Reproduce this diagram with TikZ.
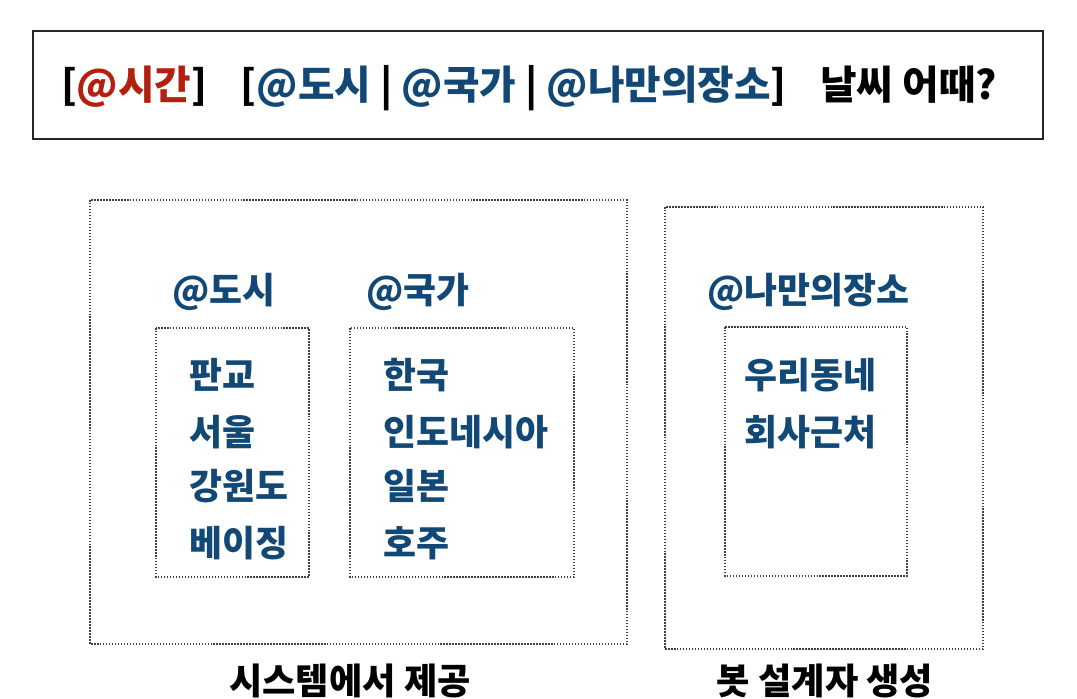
\documentclass[tikz,border=0pt]{standalone}
\usepackage{fontspec}
\setmainfont{Noto Sans CJK KR}
\definecolor{slotblue}{HTML}{124876}
\definecolor{slotred}{HTML}{B3200F}

\tikzstyle{titlebox} = [draw=black!85,line width=1.1pt]
\tikzstyle{groupbox} = [draw=black!75,line width=0.85pt,dash pattern=on 0.85pt off 0.85pt]
\tikzstyle{titletext} = [font=\fontsize{22.6}{25}\selectfont\bfseries]
\tikzstyle{slot} = [font=\fontsize{20.4}{23}\selectfont\bfseries,text=slotblue,anchor=west,inner sep=0pt]
\tikzstyle{value} = [font=\fontsize{20.4}{23}\selectfont\bfseries,text=slotblue,anchor=west,inner sep=0pt]
\tikzstyle{caption} = [font=\fontsize{20.6}{23}\selectfont\bfseries,text=black]

\begin{document}
\begin{tikzpicture}[x=0.02cm,y=-0.02cm]
      \useasboundingbox (0,0) rectangle (1077,698);
      %title
      \draw[titlebox] (33,31) rectangle (1043,139);
      \node[titletext] (title) at (529,88) {[\textcolor{slotred}{@시간}]\hspace{0.85em}[\textcolor{slotblue}{@도시} | \textcolor{slotblue}{@국가} | \textcolor{slotblue}{@나만의장소}]\hspace{0.85em}날씨 어때?};
      %boxes
      \foreach \boxname/\xa/\ya/\xb/\yb in {
        system/90/200/627/644,
        designer/665/207/983/649,
        city/156/328/309/577,
        country/350/328/574/577,
        myplace/725/327/907/576}
      {
        \draw[groupbox] (\xa,\ya) rectangle (\xb,\yb);
        \coordinate (\boxname) at ({(\xa+\xb)/2},\yb);
      };
      %slot names
      \foreach \slotname/\x/\y/\txt in {
        citylabel/172/292/@도시,
        countrylabel/366/292/@국가,
        myplacelabel/707/292/@나만의장소}
      {
        \node[slot] (\slotname) at (\x,\y) {\txt};
      };
      %values
      \foreach \valname/\x/\y/\txt in {
        pangyo/189/375/판교, seoul/189/432/서울, gangwon/189/486/강원도, beijing/189/543/베이징,
        korea/383/375/한국, indonesia/383/432/인도네시아, japan/383/486/일본, australia/383/543/호주,
        neighbor/744/375/우리동네, office/744/432/회사근처}
      {
        \node[value] (\valname) at (\x,\y) {\txt};
      };
      %captions
      \node[caption] (systemcap) at (350,681) {시스템에서 제공};
      \node[caption] (designercap) at (825,681) {봇 설계자 생성};
    \end{tikzpicture}
\end{document}
